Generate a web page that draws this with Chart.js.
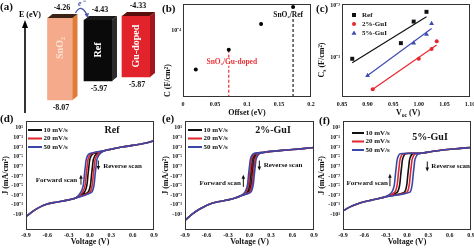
<!DOCTYPE html>
<html>
<head>
<meta charset="utf-8">
<title>SnO2 / GuI figure</title>
<script src="https://cdn.jsdelivr.net/npm/chart.js@4.4.1/dist/chart.umd.min.js"></script>
<style>
  body { margin: 0; background: #fff; }
  #fig { position: relative; width: 474px; height: 248px; overflow: hidden; background: #fff; }
  #fig canvas { position: absolute; }
  .tag { position: absolute; font: bold 11px "Liberation Serif", serif; color: #111; }
</style>
</head>
<body>
<div id="fig">
  <canvas id="cA" width="160" height="120" style="left:0;top:0"></canvas>
  <canvas id="cB" width="158" height="120" style="left:160px;top:0"></canvas>
  <canvas id="cC" width="158" height="120" style="left:316px;top:0"></canvas>
  <canvas id="cD" width="160" height="132" style="left:0;top:116px"></canvas>
  <canvas id="cE" width="158" height="132" style="left:160px;top:116px"></canvas>
  <canvas id="cF" width="158" height="132" style="left:316px;top:116px"></canvas>
  <div class="tag" style="left:0;top:0">(a)</div>
  <div class="tag" style="left:162px;top:2px">(b)</div>
  <div class="tag" style="left:316px;top:2px">(c)</div>
  <div class="tag" style="left:0;top:112px">(d)</div>
  <div class="tag" style="left:162px;top:112px">(e)</div>
  <div class="tag" style="left:319px;top:114px">(f)</div>
</div>
<script>
// ---- (a) energy levels (eV)
const bandNames = ['SnO₂', 'Ref', 'Gu-doped'];
const cbLevels = [-4.26, -4.43, -4.33];
const vbLevels = [-8.07, -5.97, -5.87];

// ---- (b) capacitance vs offset
const offsetX = [0.02, 0.0715, 0.122, 0.172];
const capC = [3.66e-5, 6.1e-5, 1.19e-4, 1.85e-4];
const capAxis = [1.8e-5, 2.0e-4];
const capTicks = [1e-4];
const refDropTop = 1.36e-4;
const offsetTicks = [0, 0.05, 0.1, 0.15, 0.2];

// ---- (c) Cs vs Voc
const refVoc = [0.87, 0.965, 0.99, 1.015];
const refCs = [9.6e-4, 1.92e-3, 5.0e-3, 7.7e-3];
const gu2Voc = [0.91, 1.0, 1.025, 1.035];
const gu2Cs = [2.49e-4, 9.6e-4, 1.48e-3, 2.09e-3];
const gu5Voc = [0.90, 0.99, 1.015, 1.025];
const gu5Cs = [4.57e-4, 1.92e-3, 2.84e-3, 4.57e-3];
const refFit = [[0.87, 8.05e-4], [1.015, 6.2e-3]];
const gu2Fit = [[0.91, 2.49e-4], [1.035, 1.76e-3]];
const gu5Fit = [[0.90, 4.57e-4], [1.025, 3.68e-3]];
const csAxis = [1.76e-4, 1.09e-2];
const csTicks = [1e-3, 1e-2];
const vocTicks = [0.85, 0.90, 0.95, 1.00, 1.05, 1.10];

// ---- (d-f) J-V hysteresis, y in tick-ladder units (0 = bottom tick)
const jvTickLabels = ['-10¹', '-10⁻¹', '-10⁻³', '-10⁻⁵', '-10⁻⁷', '10⁻⁷', '10⁻⁵', '10⁻³', '10⁻¹', '10¹'];
const voltTicks = [-0.9, -0.6, -0.3, 0, 0.3, 0.6, 0.9];
const rateLabels = ['10 mV/s', '20 mV/s', '50 mV/s'];
const rateColors = ['#111111', '#e0262e', '#3b47a6'];
const steepLevels = [2.3, 3.0, 4.0, 5.0, 5.8, 6.3];

const refLeft = [[-0.9, -0.2], [-0.8, 0.35], [-0.7, 0.8], [-0.6, 1.1], [-0.5, 1.26], [-0.4, 1.38], [-0.3, 1.52], [-0.2, 1.72]];
const refRight = [[0.2, 6.62], [0.3, 6.78], [0.45, 7.0], [0.6, 7.17], [0.75, 7.36], [0.9, 7.64]];
const refFwd10 = [-0.08, -0.045, -0.03, -0.015, 0.0, 0.04];
const refRev10 = [-0.03, 0.005, 0.02, 0.035, 0.05, 0.09];
const refFwd20 = [-0.105, -0.07, -0.055, -0.04, -0.025, 0.015];
const refRev20 = [-0.005, 0.03, 0.045, 0.06, 0.075, 0.115];
const refFwd50 = [-0.13, -0.095, -0.08, -0.065, -0.05, -0.01];
const refRev50 = [0.02, 0.055, 0.07, 0.085, 0.1, 0.14];

const gu2Left = [[-0.9, -0.6], [-0.8, 0.05], [-0.7, 0.55], [-0.6, 0.95], [-0.5, 1.22], [-0.4, 1.38], [-0.3, 1.52], [-0.2, 1.72], [-0.12, 1.95]];
const gu2Right = [[0.2, 6.45], [0.3, 6.55], [0.45, 6.65], [0.6, 6.74], [0.75, 6.84], [0.9, 6.96]];
const gu2Fwd10 = [-0.037, -0.002, 0.013, 0.028, 0.043, 0.083];
const gu2Rev10 = [-0.013, 0.022, 0.037, 0.052, 0.067, 0.107];
const gu2Fwd20 = [-0.05, -0.015, 0.0, 0.015, 0.03, 0.07];
const gu2Rev20 = [0.0, 0.035, 0.05, 0.065, 0.08, 0.12];
const gu2Fwd50 = [-0.065, -0.03, -0.015, 0.0, 0.015, 0.055];
const gu2Rev50 = [0.015, 0.05, 0.065, 0.08, 0.095, 0.135];

const gu5Left = [[-0.9, 0.38], [-0.8, 0.8], [-0.7, 1.1], [-0.6, 1.33], [-0.5, 1.5], [-0.4, 1.66], [-0.3, 1.85]];
const gu5Right = [[0.2, 6.35], [0.33, 6.52], [0.45, 6.64], [0.57, 6.75], [0.75, 6.86], [0.9, 6.96]];
const gu5Fwd10 = [-0.14, -0.105, -0.09, -0.075, -0.06, -0.02];
const gu5Rev10 = [-0.04, -0.005, 0.01, 0.025, 0.04, 0.08];
const gu5Fwd20 = [-0.175, -0.14, -0.125, -0.11, -0.095, -0.055];
const gu5Rev20 = [-0.005, 0.03, 0.045, 0.06, 0.075, 0.115];
const gu5Fwd50 = [-0.215, -0.18, -0.165, -0.15, -0.135, -0.095];
const gu5Rev50 = [0.035, 0.07, 0.085, 0.1, 0.115, 0.155];

// styles
const FONT = '"Liberation Serif", serif';
const tickFont = { family: FONT, weight: 'bold', size: 6 };
const titleFont = { family: FONT, weight: 'bold', size: 8 };
const bandFront = ['#f4aa8b', '#0a0a0a', '#e2232b'];
const bandSide = ['#e27b36', '#2c2c2c', '#a5161c'];
const bandTop = ['#3b2216', '#1a1a1a', '#5a0d0d'];
const bandText = ['#fde3d6', '#ffffff', '#ffffff'];
const noGrid = { display: false, drawTicks: false };

const supMap = { '-': '⁻', '0': '⁰', '1': '¹', '2': '²', '3': '³', '4': '⁴', '5': '⁵', '6': '⁶', '7': '⁷', '8': '⁸', '9': '⁹' };
function pow10Label(v) {
    const e = Math.log10(v);
    if (Math.abs(e - Math.round(e)) > 1e-6) return '';
    return '10' + String(Math.round(e)).split('').map(c => supMap[c]).join('');
}

function fixY(w) { return s => { s.width = w; s.paddingTop = 0; s.paddingBottom = 0; }; }
function fixX(h) { return s => { s.height = h; s.paddingLeft = 0; s.paddingRight = 0; }; }
function useTicks(list) { return s => { s.ticks = list.map(v => ({ value: v })); }; }

const base = { responsive: false, animation: false, devicePixelRatio: 1 };
const noPlug = { legend: { display: false }, tooltip: { enabled: false } };

const frame = {
    id: 'frame',
    afterDraw(chart) {
        const a = chart.chartArea, ctx = chart.ctx;
        ctx.save();
        ctx.strokeStyle = '#333';
        ctx.lineWidth = 1;
        ctx.strokeRect(Math.round(a.left) + 0.5, Math.round(a.top) + 0.5,
            Math.round(a.right - a.left) - 1, Math.round(a.bottom - a.top) - 1);
        ctx.restore();
    }
};

function arrowV(ctx, x, y0, y1) {
    const dir = y1 < y0 ? -1 : 1;
    ctx.beginPath(); ctx.moveTo(x, y0); ctx.lineTo(x, y1 - dir * 3); ctx.stroke();
    ctx.beginPath(); ctx.moveTo(x, y1); ctx.lineTo(x - 1.8, y1 - dir * 4); ctx.lineTo(x + 1.8, y1 - dir * 4); ctx.closePath(); ctx.fill();
}

// text with a subscript part, centred on (x, y), optionally rotated
function subText(ctx, parts, x, y, rot, size) {
    ctx.save();
    ctx.translate(x, y);
    if (rot) ctx.rotate(rot);
    const fonts = parts.map(p => `bold ${p[1] ? size * 0.7 : size}px ${FONT}`);
    let w = 0;
    parts.forEach((p, i) => { ctx.font = fonts[i]; w += ctx.measureText(p[0]).width; });
    let cx = -w / 2;
    ctx.textBaseline = 'middle';
    ctx.textAlign = 'left';
    parts.forEach((p, i) => {
        ctx.font = fonts[i];
        ctx.fillText(p[0], cx, p[1] ? size * 0.3 : 0);
        cx += ctx.measureText(p[0]).width;
    });
    ctx.restore();
}

// ---------- (a)
const bands3d = {
    id: 'bands3d',
    afterDatasetsDraw(chart) {
        const ctx = chart.ctx, dx = 5, dy = 4, boxes = [];
        ctx.save();
        chart.data.datasets.forEach((ds, di) => {
            chart.getDatasetMeta(di).data.forEach((bar, i) => {
                if (!ds.data[i]) return;
                const p = bar.getProps(['x', 'y', 'base', 'width'], true);
                const l = p.x - p.width / 2, r = p.x + p.width / 2;
                const t = Math.min(p.y, p.base), b = Math.max(p.y, p.base);
                boxes[i] = { x: p.x, l, r, t, b };
                ctx.fillStyle = bandSide[i];
                ctx.beginPath(); ctx.moveTo(r, t); ctx.lineTo(r + dx, t - dy); ctx.lineTo(r + dx, b - dy); ctx.lineTo(r, b); ctx.closePath(); ctx.fill();
                ctx.fillStyle = bandTop[i];
                ctx.beginPath(); ctx.moveTo(l, t); ctx.lineTo(l + dx, t - dy); ctx.lineTo(r + dx, t - dy); ctx.lineTo(r, t); ctx.closePath(); ctx.fill();
            });
        });
        boxes.forEach((bx, i) => {
            ctx.save();
            ctx.translate(bx.x, bx.t + Math.min(bx.b - bx.t, 60) / 2);
            ctx.rotate(-Math.PI / 2);
            ctx.fillStyle = bandText[i];
            ctx.font = `bold 10px ${FONT}`;
            ctx.textAlign = 'center'; ctx.textBaseline = 'middle';
            ctx.fillText(bandNames[i], 0, 0);
            ctx.restore();
            ctx.fillStyle = '#111';
            ctx.font = `bold 8px ${FONT}`;
            ctx.textAlign = 'center'; ctx.textBaseline = 'middle';
            ctx.fillText(cbLevels[i].toFixed(2), bx.x + 2, bx.t - 10);
            ctx.fillText(vbLevels[i].toFixed(2), bx.x + 1, bx.b + 8);
        });
        // energy axis arrow
        const ax = chart.chartArea.left - 16;
        ctx.strokeStyle = '#000'; ctx.fillStyle = '#000'; ctx.lineWidth = 1.6;
        ctx.beginPath(); ctx.moveTo(ax, 113); ctx.lineTo(ax, 26); ctx.stroke();
        ctx.beginPath(); ctx.moveTo(ax, 20); ctx.lineTo(ax - 3, 28); ctx.lineTo(ax + 3, 28); ctx.closePath(); ctx.fill();
        ctx.font = `bold 8px ${FONT}`;
        ctx.fillText('E (eV)', ax + 5, 15);
        // electron transfer arc
        const s = boxes[0], e = boxes[1];
        const sx = s.r + dx - 2, sy = s.t - dy - 1, ex = e.l + 3, ey = e.t - dy + 1;
        ctx.strokeStyle = '#4b56a8'; ctx.fillStyle = '#4b56a8'; ctx.lineWidth = 1.3;
        ctx.beginPath(); ctx.moveTo(sx, sy); ctx.quadraticCurveTo((sx + ex) / 2, sy - 10, ex, ey - 2); ctx.stroke();
        ctx.beginPath(); ctx.moveTo(ex + 0.5, ey + 1); ctx.lineTo(ex - 2.5, ey - 3); ctx.lineTo(ex + 2, ey - 4); ctx.closePath(); ctx.fill();
        ctx.font = `italic bold 8px ${FONT}`;
        ctx.fillText('e⁻', (sx + ex) / 2, 4);
        ctx.restore();
    }
};

new Chart(document.getElementById('cA'), {
    type: 'bar',
    data: {
        labels: bandNames,
        datasets: [
            { data: [[vbLevels[0], cbLevels[0]], null, null], yAxisID: 'y', backgroundColor: bandFront, barThickness: 25, grouped: false },
            { data: [null, [vbLevels[1], cbLevels[1]], [vbLevels[2], cbLevels[2]]], yAxisID: 'y2', backgroundColor: bandFront, barThickness: 28, grouped: false }
        ]
    },
    options: {
        ...base,
        layout: { padding: { left: 41, right: 5, top: 10, bottom: 10 } },
        scales: {
            x: { display: false },
            // the schematic uses a broken scale: SnO2 on one, the perovskites on another
            y: { type: 'linear', display: false, min: -8.535, max: -3.888 },
            y2: { type: 'linear', display: false, min: -6.702, max: -4.1775 }
        },
        plugins: noPlug
    },
    plugins: [bands3d]
});

// ---------- (b)
const bLabels = {
    id: 'bLabels',
    afterDatasetsDraw(chart) {
        const ctx = chart.ctx, xs = chart.scales.x, ys = chart.scales.y;
        ctx.save();
        ctx.font = `bold 7.5px ${FONT}`;
        ctx.textAlign = 'center'; ctx.textBaseline = 'middle';
        const put = (txt, x, y, col) => {
            const w = ctx.measureText(txt).width;
            ctx.fillStyle = '#fff'; ctx.fillRect(x - w / 2 - 1, y - 4, w + 2, 8);
            ctx.fillStyle = col; ctx.fillText(txt, x, y);
        };
        put('SnO₂/Ref', xs.getPixelForValue(offsetX[3]) - 5, ys.getPixelForValue(capC[3]) + 8, '#111');
        put('SnO₂/Gu-doped', xs.getPixelForValue(offsetX[1]) + 3, ys.getPixelForValue(capC[1]) + 12, '#e8323a');
        ctx.restore();
    }
};

new Chart(document.getElementById('cB'), {
    type: 'scatter',
    data: {
        datasets: [
            { data: offsetX.map((x, i) => ({ x, y: capC[i] })), pointRadius: 2, pointBackgroundColor: '#000', pointBorderWidth: 0 },
            { type: 'line', data: [{ x: offsetX[1], y: capC[1] }, { x: offsetX[1], y: capAxis[0] }], borderColor: '#e8323a', borderWidth: 1.2, borderDash: [3, 2], pointRadius: 0 },
            { type: 'line', data: [{ x: offsetX[3], y: refDropTop }, { x: offsetX[3], y: capAxis[0] }], borderColor: '#222', borderWidth: 1.2, borderDash: [3, 2], pointRadius: 0 }
        ]
    },
    options: {
        ...base,
        layout: { padding: { left: 0, top: 2, right: 7, bottom: 0 } },
        scales: {
            x: {
                type: 'linear', min: 0, max: 0.2,
                afterBuildTicks: useTicks(offsetTicks),
                ticks: { font: tickFont, color: '#111', padding: 4, autoSkip: false, callback: v => String(+v.toFixed(2)) },
                grid: noGrid, border: { display: false },
                title: { display: true, text: 'Offset (eV)', font: titleFont, color: '#111', padding: { top: 0, bottom: 2 } },
                afterFit: fixX(23)
            },
            y: {
                type: 'logarithmic', min: capAxis[0], max: capAxis[1],
                afterBuildTicks: useTicks(capTicks),
                ticks: { font: tickFont, color: '#111', padding: 2, autoSkip: false, callback: v => pow10Label(v) },
                grid: noGrid, border: { display: false },
                title: { display: true, text: 'C (F/cm²)', font: titleFont, color: '#111', align: 'start', padding: { top: 3, bottom: 0 } },
                afterFit: fixY(23)
            }
        },
        plugins: noPlug
    },
    plugins: [frame, bLabels]
});

// ---------- (c)
const cDecor = {
    id: 'cDecor',
    afterDraw(chart) {
        const ctx = chart.ctx, a = chart.chartArea;
        ctx.save();
        chart.data.datasets.filter(ds => ds.label).forEach((ds, i) => {
            const x = a.left + 12, y = a.top + 11 + i * 9;
            ctx.fillStyle = ds.backgroundColor;
            ctx.beginPath();
            if (ds.pointStyle === 'rect') ctx.rect(x - 2, y - 2, 4, 4);
            else if (ds.pointStyle === 'circle') ctx.arc(x, y, 2, 0, Math.PI * 2);
            else { ctx.moveTo(x, y - 2.6); ctx.lineTo(x + 2.5, y + 1.8); ctx.lineTo(x - 2.5, y + 1.8); ctx.closePath(); }
            ctx.fill();
            ctx.fillStyle = '#111';
            ctx.font = `bold 7px ${FONT}`;
            ctx.textAlign = 'left'; ctx.textBaseline = 'middle';
            ctx.fillText(ds.label, x + 8, y);
        });
        ctx.fillStyle = '#111';
        subText(ctx, [['V', 0], ['oc', 1], [' (V)', 0]], (a.left + a.right) / 2 + 2, chart.height - 7, 0, 8);
        subText(ctx, [['C', 0], ['s', 1], [' (F/cm²)', 0]], 6, a.top + 56, -Math.PI / 2, 8);
        ctx.restore();
    }
};

const fitLine = (pts, col) => ({ type: 'line', data: pts.map(([x, y]) => ({ x, y })), borderColor: col, borderWidth: 1.2, pointRadius: 0 });

new Chart(document.getElementById('cC'), {
    type: 'scatter',
    data: {
        datasets: [
            { label: 'Ref', data: refVoc.map((x, i) => ({ x, y: refCs[i] })), pointStyle: 'rect', pointRadius: 2.8, backgroundColor: '#111', borderColor: '#111', borderWidth: 0 },
            { label: '2%-GuI', data: gu2Voc.map((x, i) => ({ x, y: gu2Cs[i] })), pointStyle: 'circle', pointRadius: 2, backgroundColor: '#e8262e', borderColor: '#e8262e', borderWidth: 0 },
            { label: '5%-GuI', data: gu5Voc.map((x, i) => ({ x, y: gu5Cs[i] })), pointStyle: 'triangle', pointRadius: 2.8, backgroundColor: '#3d4db0', borderColor: '#3d4db0', borderWidth: 0 },
            fitLine(refFit, '#111'),
            fitLine(gu2Fit, '#e8262e'),
            fitLine(gu5Fit, '#3d4db0')
        ]
    },
    options: {
        ...base,
        layout: { padding: { left: 0, top: 2, right: 3, bottom: 0 } },
        scales: {
            x: {
                type: 'linear', min: 0.85, max: 1.10,
                afterBuildTicks: useTicks(vocTicks),
                ticks: { font: tickFont, color: '#111', padding: 4, autoSkip: false, callback: v => v.toFixed(2) },
                grid: noGrid, border: { display: false },
                afterFit: fixX(23)
            },
            y: {
                type: 'logarithmic', min: csAxis[0], max: csAxis[1],
                afterBuildTicks: useTicks(csTicks),
                ticks: { font: tickFont, color: '#111', padding: 2, autoSkip: false, callback: v => pow10Label(v) },
                grid: noGrid, border: { display: false },
                afterFit: fixY(26)
            }
        },
        plugins: noPlug
    },
    plugins: [frame, cDecor]
});

// ---------- (d-f)
function jvLoop(left, right, fwd, rev) {
    const up = [...left, ...fwd.map((v, i) => [v, steepLevels[i]]), ...right];
    const down = [...right.slice().reverse(), ...rev.map((v, i) => [v, steepLevels[i]]).reverse(), ...left.slice().reverse()];
    return up.concat(down).map(([x, y]) => ({ x, y }));
}

const jvDecor = {
    id: 'jvDecor',
    afterDatasetsDraw(chart, args, o) {
        const ctx = chart.ctx, a = chart.chartArea, xs = chart.scales.x, ys = chart.scales.y;
        ctx.save();
        ctx.textBaseline = 'middle';
        chart.data.datasets.forEach((ds, i) => {
            const y = a.top + o.legend[1] + i * 8.5, x = a.left + o.legend[0];
            ctx.strokeStyle = ds.borderColor; ctx.lineWidth = 2;
            ctx.beginPath(); ctx.moveTo(x, y); ctx.lineTo(x + o.legend[2], y); ctx.stroke();
            ctx.fillStyle = '#111'; ctx.font = `bold 7px ${FONT}`; ctx.textAlign = 'left';
            ctx.fillText(ds.label, x + o.legend[2] + 1.5, y);
        });
        ctx.fillStyle = '#111';
        ctx.font = `bold 10px ${FONT}`; ctx.textAlign = 'center';
        ctx.fillText(o.title, a.left + o.titleAt[0], a.top + o.titleAt[1]);
        ctx.font = `bold 7px ${FONT}`;
        ctx.fillText('Forward scan', xs.getPixelForValue(o.fwdText[0]), ys.getPixelForValue(o.fwdText[1]));
        ctx.fillText('Reverse scan', xs.getPixelForValue(o.revText[0]), ys.getPixelForValue(o.revText[1]));
        ctx.strokeStyle = '#111'; ctx.lineWidth = 1;
        arrowV(ctx, xs.getPixelForValue(o.fwdArrow[0]), ys.getPixelForValue(o.fwdArrow[1]), ys.getPixelForValue(o.fwdArrow[2]));
        arrowV(ctx, xs.getPixelForValue(o.revArrow[0]), ys.getPixelForValue(o.revArrow[1]), ys.getPixelForValue(o.revArrow[2]));
        ctx.restore();
    }
};

function jvChart(id, loops, yw, right, deco) {
    return new Chart(document.getElementById(id), {
        type: 'line',
        data: {
            datasets: loops.map((pts, i) => ({
                label: rateLabels[i], data: pts, borderColor: rateColors[i],
                borderWidth: 1.6, pointRadius: 0, tension: 0.3, order: 2 - i
            }))
        },
        options: {
            ...base,
            layout: { padding: { left: 0, top: 5, right: right, bottom: 0 } },
            scales: {
                x: {
                    type: 'linear', min: -0.9, max: 0.9,
                    afterBuildTicks: useTicks(voltTicks),
                    ticks: { font: tickFont, color: '#111', padding: 2, autoSkip: false, callback: v => v.toFixed(1) },
                    grid: noGrid, border: { display: false },
                    title: { display: true, text: 'Voltage (V)', font: titleFont, color: '#111', padding: { top: 0, bottom: 1 } },
                    afterFit: fixX(18)
                },
                y: {
                    type: 'linear', min: -1.6, max: 9.7,
                    afterBuildTicks: useTicks(jvTickLabels.map((_, i) => i)),
                    ticks: { font: tickFont, color: '#111', padding: 3, autoSkip: false, callback: v => jvTickLabels[v] ?? '' },
                    grid: noGrid, border: { display: false },
                    title: { display: true, text: 'J (mA/cm²)', font: titleFont, color: '#111', padding: { top: 1, bottom: 0 } },
                    afterFit: fixY(yw)
                }
            },
            plugins: { ...noPlug, jvDecor: deco }
        },
        plugins: [frame, jvDecor]
    });
}

jvChart('cD', [
    jvLoop(refLeft, refRight, refFwd10, refRev10),
    jvLoop(refLeft, refRight, refFwd20, refRev20),
    jvLoop(refLeft, refRight, refFwd50, refRev50)
], 26, 6, {
    title: 'Ref', titleAt: [86, 9], legend: [2, 9, 14],
    fwdText: [-0.471, 3.58], fwdArrow: [-0.127, 3.1, 4.12],
    revText: [0.457, 5.04], revArrow: [0.117, 5.6, 4.63]
});

jvChart('cE', [
    jvLoop(gu2Left, gu2Right, gu2Fwd10, gu2Rev10),
    jvLoop(gu2Left, gu2Right, gu2Fwd20, gu2Rev20),
    jvLoop(gu2Left, gu2Right, gu2Fwd50, gu2Rev50)
], 25, 4, {
    title: '2%-GuI', titleAt: [88, 9], legend: [3, 9, 14],
    fwdText: [-0.41, 3.27], fwdArrow: [-0.086, 2.87, 4.12],
    revText: [0.467, 5.08], revArrow: [0.137, 5.6, 4.57]
});

jvChart('cF', [
    jvLoop(gu5Left, gu5Right, gu5Fwd10, gu5Rev10),
    jvLoop(gu5Left, gu5Right, gu5Fwd20, gu5Rev20),
    jvLoop(gu5Left, gu5Right, gu5Fwd50, gu5Rev50)
], 27, 3, {
    title: '5%-GuI', titleAt: [87, 16], legend: [9, 12, 12],
    fwdText: [-0.56, 3.27], fwdArrow: [-0.24, 2.94, 4.23],
    revText: [0.614, 5.04], revArrow: [0.285, 5.5, 4.47]
});
</script>
</body>
</html>
